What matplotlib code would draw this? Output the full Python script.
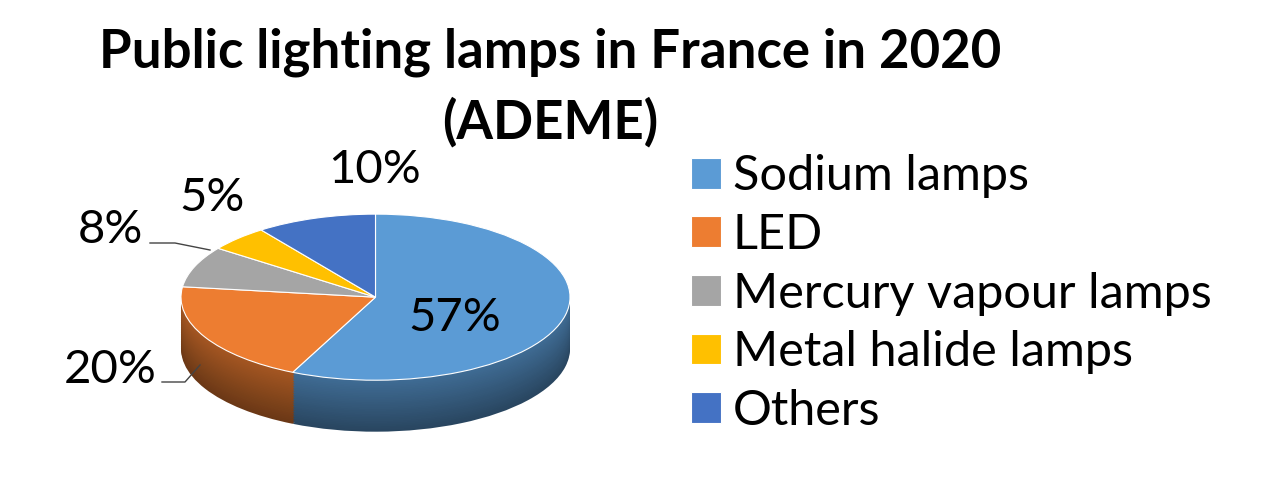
import matplotlib
matplotlib.use("Agg")
import matplotlib.pyplot as plt
import matplotlib.colors as mc
import numpy as np

labels = ["Sodium lamps", "LED", "Mercury vapour lamps", "Metal halide lamps", "Others"]
values = [57, 20, 8, 5, 10]
colors = ["#5B9BD5", "#ED7D31", "#A5A5A5", "#FFC000", "#4472C4"]

plt.rcParams['font.family'] = ['Lato', 'DejaVu Sans']
W, H = 1264, 492
fig = plt.figure(figsize=(W/100, H/100), dpi=100)

def px(x0, y0, x1, y1):
    return [x0/W, 1-y1/H, (x1-x0)/W, (y1-y0)/H]

ax = fig.add_axes(px(181, 200, 570, 440))

def darker(c, f):
    r, g, b = mc.to_rgb(c)
    return (r*f, g*f, b*f)

depth = 0.62
n = 30
for i in range(n, 0, -1):
    d = depth * i / n
    f = 0.45 + 0.25 * (1 - i / n)
    ax.pie(values, colors=[darker(c, f) for c in colors], startangle=90,
           counterclock=False, center=(0, -d), radius=1, frame=True,
           wedgeprops=dict(linewidth=0))
wedges, _ = ax.pie(values, colors=colors, startangle=90, counterclock=False,
                   center=(0, 0), radius=1, frame=True,
                   wedgeprops=dict(linewidth=0.8, edgecolor='white'))
ax.set_xlim(-1, 1)
ax.set_ylim(-1.72, 1.17)
ax.set_aspect('auto')
ax.axis('off')

fig.text(550/W, 1-52/H, "Public lighting lamps in France in 2020", ha='center', va='center',
         fontsize=38, fontweight='bold')
fig.text(550/W, 1-122/H, "(ADEME)", ha='center', va='center', fontsize=38, fontweight='bold')

lbl_pos = [(455, 318), (110, 370), (110, 230), (212, 198), (375, 170)]
for (x, y), v in zip(lbl_pos, values):
    fig.text(x/W, 1-y/H, f"{v}%", ha='center', va='center', fontsize=34)

# leader lines
fig.add_artist(plt.Line2D([150/W, 175/W, 210/W], [1-243/H, 1-243/H, 1-250/H], color='#444', lw=1))
fig.add_artist(plt.Line2D([162/W, 185/W, 200/W], [1-382/H, 1-382/H, 1-365/H], color='#444', lw=1))

fig.legend(wedges, labels, loc='upper left', bbox_to_anchor=(672/W, 1-135/H),
           frameon=False, fontsize=35, handlelength=0.6, handleheight=0.6,
           handletextpad=0.25, labelspacing=0.3, borderaxespad=0)

fig.savefig("out.png", dpi=100)
